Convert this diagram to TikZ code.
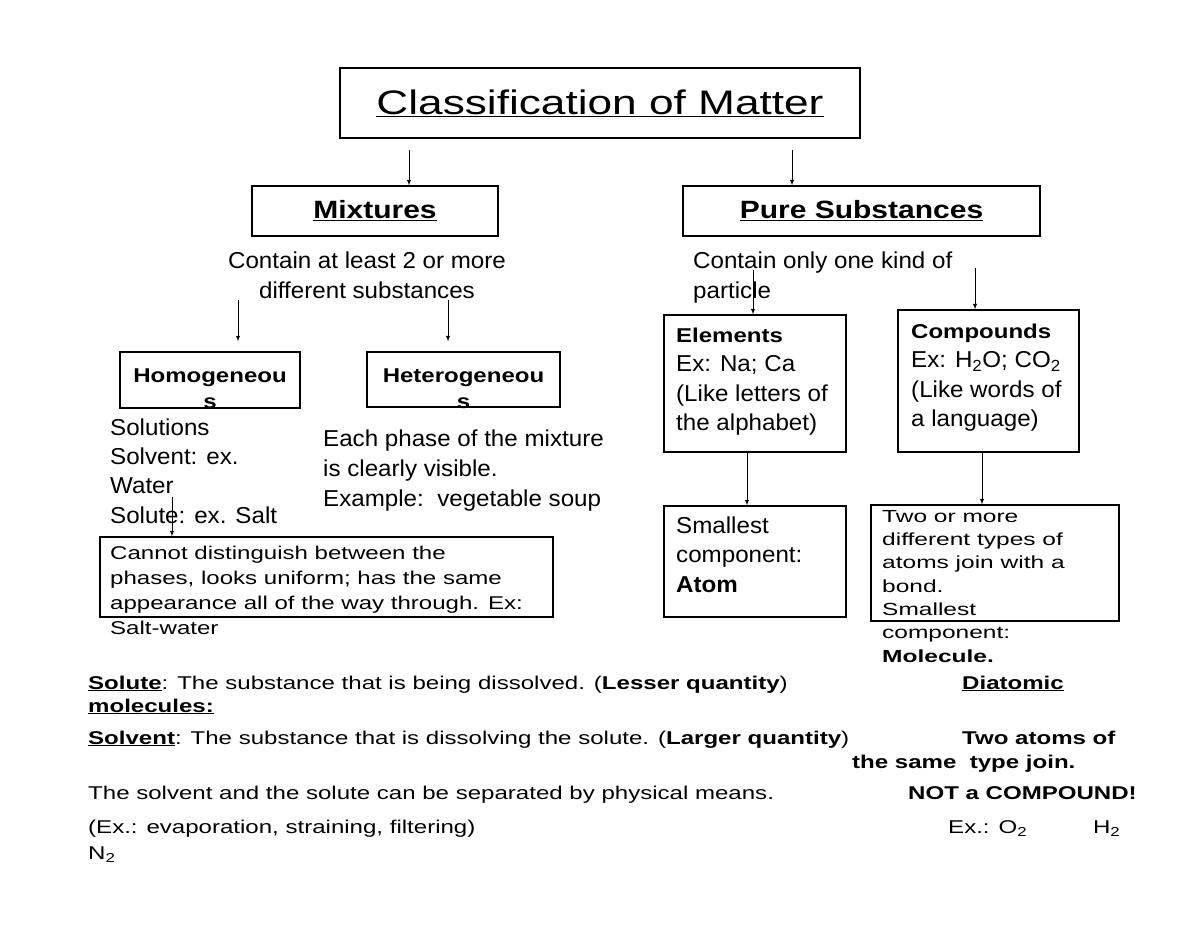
\documentclass[tikz,border=0pt]{standalone}
\usepackage{fontspec}
\setmainfont[FakeStretch=1.05]{Liberation Sans}
\newfontfamily\headfont[FakeStretch=1.2]{Liberation Sans}
\newfontfamily\widefont[FakeStretch=1.3]{Liberation Sans}
\newfontfamily\molfont[FakeStretch=1.4]{Liberation Sans}
\usetikzlibrary{shapes, arrows, fit}
\usetikzlibrary{positioning}

\tikzset{
  box/.style={draw, line width=1.3pt, inner sep=0pt},
  txt/.style={inner sep=0pt, anchor=base west, align=left, font=\fontsize{23}{30}\selectfont},
  btm/.style={txt, font=\widefont\fontsize{18.5}{22}\selectfont},
  lbl/.style={txt, anchor=base, align=center, font=\headfont\fontsize{20}{26}\selectfont\bfseries},
  arr/.style={-latex, line width=0.9pt}
}

\begin{document}
\begin{tikzpicture}[x=1pt, y=-1pt]
\useasboundingbox (0,0) rectangle (1200,927);
\path
  coordinate (top1) at (409,150)
  coordinate (top2) at (792,150)
  coordinate (mix1) at (238,300)
  coordinate (mix2) at (448,300)
  coordinate (hom1) at (172,497)
  coordinate (pur1) at (753,270)
  coordinate (pur2) at (975,268)
  coordinate (ele1) at (747,452)
  coordinate (com1) at (982,452)
  ;
\node[box, minimum width=520, minimum height=70, font=\widefont\fontsize{34}{40}\selectfont] (title) at (600,103) {\underline{Classification of Matter}};
\node[box, minimum width=246, minimum height=50, font=\headfont\fontsize{25}{30}\selectfont\bfseries] (mix) at (375,211) {\underline{Mixtures}};
\node[box, minimum width=357, minimum height=50, font=\headfont\fontsize{25}{30}\selectfont\bfseries] (pur) at (861.5,211) {\underline{Pure Substances}};
\node[box, minimum width=180, minimum height=56] (hom) at (210,380) {};
\node[box, minimum width=193, minimum height=55] (het) at (463.5,379.5) {};
\node[box, minimum width=453, minimum height=80] (sol) at (326.5,577) {};
\node[box, minimum width=182, minimum height=137] (ele) at (755,383.5) {};
\node[box, minimum width=181, minimum height=142] (com) at (988.5,381) {};
\node[box, minimum width=182, minimum height=111] (atom) at (755,561.5) {};
\node[box, minimum width=248, minimum height=116] (mol) at (995,563) {};

\draw[arr] (top1) -- (top1 |- mix.north);
\draw[arr] (top2) -- (top2 |- pur.north);
\draw[arr] (mix1) -- ([yshift=10pt]hom.north -| mix1);
\draw[arr] (mix2) -- ([yshift=10pt]het.north -| mix2);
\draw[arr] (hom1) -- (hom1 |- sol.north);
\draw[arr] (pur1) -- (pur1 |- ele.north);
\draw[arr] (pur2) -- (pur2 |- com.north);
\draw[arr] (ele1) -- (ele1 |- atom.north);
\draw[arr] (com1) -- (com1 |- mol.north);

\node[txt, anchor=base, align=center] (mixdesc) at (367,298) {Contain at least 2 or more\\different substances};
\node[txt] (purdesc) at (693,298) {Contain only one kind of\\particle};
\node[lbl] (homtxt) at (210,408) {Homogeneou\\s};
\node[lbl] (hettxt) at (463.5,408) {Heterogeneou\\s};
\node[txt, font=\fontsize{23}{29.3}\selectfont] (soltxt) at (110,523) {Solutions\\Solvent: ex.\\Water\\Solute: ex. Salt};
\node[txt] (hetdesc) at (323,506) {Each phase of the mixture\\is clearly visible.\\Example:\ \ vegetable soup};
\node[txt, font=\widefont\fontsize{18.5}{25}\selectfont] (unif) at (110,634) {Cannot distinguish between the\\phases, looks uniform; has the same\\appearance all of the way through. Ex:\\Salt-water};
\node[txt, font=\fontsize{23}{29.5}\selectfont] (eletxt) at (676,430.5) {{\headfont\fontsize{20}{29.5}\selectfont\bfseries Elements}\\Ex: Na; Ca\\(Like letters of\\the alphabet)};
\node[txt, font=\fontsize{23}{29.5}\selectfont] (comtxt) at (911,426.5) {{\headfont\fontsize{20}{29.5}\selectfont\bfseries Compounds}\\Ex: H\textsubscript{2}O; CO\textsubscript{2}\\(Like words of\\a language)};
\node[txt, font=\fontsize{23}{29.5}\selectfont] (atomtxt) at (676,592) {Smallest\\component:\\\textbf{Atom}};
\node[txt, font=\molfont\fontsize{17.5}{23.3}\selectfont] (moltxt) at (882,662) {Two or more\\different types of\\atoms join with a\\bond.\\Smallest\\component:\\\textbf{Molecule.}};

\node[btm] (solute) at (88,689) {\textbf{\underline{Solute}}: The substance that is being dissolved. (\textbf{Lesser quantity})};
\node[btm] (diat) at (962,689) {\textbf{\underline{Diatomic}}};
\node[btm] (molec) at (88,712) {\textbf{\underline{molecules:}}};
\node[btm] (solvent) at (88,744) {\textbf{\underline{Solvent}}: The substance that is dissolving the solute. (\textbf{Larger quantity})};
\node[btm] (twoat) at (962,744) {\textbf{Two atoms of}};
\node[btm] (sametype) at (852,768) {\textbf{the same\ \ type join.}};
\node[btm] (physical) at (88,799) {The solvent and the solute can be separated by physical means.};
\node[btm] (notcomp) at (908,799) {\textbf{NOT a COMPOUND!}};
\node[btm] (evap) at (88,833) {(Ex.: evaporation, straining, filtering)};
\node[btm] (exo) at (948,833) {Ex.: O\textsubscript{2}\hspace{66pt}H\textsubscript{2}};
\node[btm] (ntwo) at (88,859) {N\textsubscript{2}};
\end{tikzpicture}
\end{document}
